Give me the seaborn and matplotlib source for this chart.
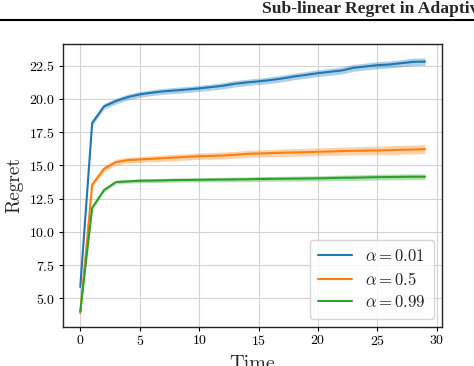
import numpy as np
import pandas as pd
import matplotlib
matplotlib.use("Agg")
import matplotlib.pyplot as plt
import seaborn as sns

# time steps and mean regret per alpha
time = list(range(30))
labels = [r"$\alpha = 0.01$", r"$\alpha = 0.5$", r"$\alpha = 0.99$"]

regret_001 = [5.85, 18.2, 19.45, 19.85, 20.15, 20.35, 20.48, 20.58, 20.65, 20.72,
              20.8, 20.9, 21.0, 21.15, 21.25, 21.33, 21.43, 21.55, 21.7, 21.82,
              21.95, 22.05, 22.15, 22.35, 22.45, 22.55, 22.6, 22.7, 22.8, 22.82]
regret_05 = [3.9, 13.55, 14.75, 15.25, 15.4, 15.45, 15.5, 15.55, 15.6, 15.65,
             15.7, 15.72, 15.75, 15.8, 15.87, 15.9, 15.93, 15.96, 15.98, 16.0,
             16.03, 16.05, 16.08, 16.1, 16.12, 16.13, 16.15, 16.18, 16.2, 16.23]
regret_099 = [4.0, 11.8, 13.15, 13.75, 13.8, 13.85, 13.86, 13.88, 13.9, 13.91,
              13.92, 13.93, 13.94, 13.95, 13.96, 13.98, 13.99, 14.0, 14.01, 14.02,
              14.03, 14.05, 14.07, 14.08, 14.1, 14.12, 14.13, 14.14, 14.15, 14.15]

# half width of the shaded band
band_001 = [0.05, 0.2, 0.22, 0.22, 0.22, 0.22, 0.22, 0.22, 0.23, 0.23,
            0.23, 0.23, 0.24, 0.24, 0.24, 0.24, 0.25, 0.25, 0.25, 0.25,
            0.25, 0.26, 0.26, 0.26, 0.26, 0.27, 0.27, 0.27, 0.28, 0.28]
band_05 = [0.05, 0.2, 0.22, 0.22, 0.22, 0.22, 0.23, 0.23, 0.24, 0.24,
           0.25, 0.25, 0.26, 0.26, 0.27, 0.27, 0.28, 0.28, 0.29, 0.29,
           0.3, 0.3, 0.31, 0.31, 0.32, 0.32, 0.33, 0.33, 0.34, 0.34]
band_099 = [0.05, 0.12, 0.14, 0.14, 0.14, 0.15, 0.15, 0.15, 0.16, 0.16,
            0.16, 0.17, 0.17, 0.17, 0.18, 0.18, 0.18, 0.19, 0.19, 0.19,
            0.2, 0.2, 0.2, 0.21, 0.21, 0.21, 0.22, 0.22, 0.22, 0.22]

sns.set_style("ticks", {"axes.grid": True, "grid.color": "#d3d3d3",
                        "axes.edgecolor": "black"})
plt.rcParams["font.family"] = ["cmr10", "DejaVu Serif"]
plt.rcParams["mathtext.fontset"] = "cm"
plt.rcParams["axes.formatter.use_mathtext"] = True

# long table: low / mean / high per time so the band is the min-max range
rows = []
for lab, mean, hw in zip(labels, [regret_001, regret_05, regret_099],
                         [band_001, band_05, band_099]):
    for t, m, h in zip(time, mean, hw):
        for v in (m - h, m, m + h):
            rows.append({"Time": t, "Regret": v, "alpha": lab})
df = pd.DataFrame(rows)

fig = plt.figure(figsize=(4.74, 3.66), dpi=100)
ax = fig.add_axes([0.133, 0.107, 0.8, 0.773])

sns.lineplot(data=df, x="Time", y="Regret", hue="alpha", palette="tab10",
             estimator="mean", errorbar=("pi", 100), linewidth=1.5,
             err_kws={"alpha": 0.35, "linewidth": 0}, ax=ax)

ax.set_xticks([0, 5, 10, 15, 20, 25, 30])
ax.set_yticks([5.0, 7.5, 10.0, 12.5, 15.0, 17.5, 20.0, 22.5])
ax.set_ylim(2.85, 24.15)
ax.tick_params(labelsize=10, length=3, width=0.8, pad=2.5, colors="black")
for sp in ax.spines.values():
    sp.set_linewidth(1.0)
    sp.set_color("#222222")
ax.grid(True, linewidth=0.8)
ax.set_xlabel("Time", fontsize=14.5, labelpad=4.5)
ax.set_ylabel("Regret", fontsize=14, labelpad=4)

leg = ax.legend(loc="lower right", fontsize=12, title=None, framealpha=0.8,
                borderpad=0.5, labelspacing=0.4)

# page header cut off at the right edge
fig.text(0.552, 0.9636, "Sub-linear Regret in Adaptive Control", fontsize=12.6,
         fontweight="bold", family="Liberation Serif", va="baseline")
fig.add_artist(plt.Line2D([0, 1], [0.9454, 0.9454], color="black", linewidth=1.5,
                          transform=fig.transFigure))

fig.savefig("out.png", dpi=100)
